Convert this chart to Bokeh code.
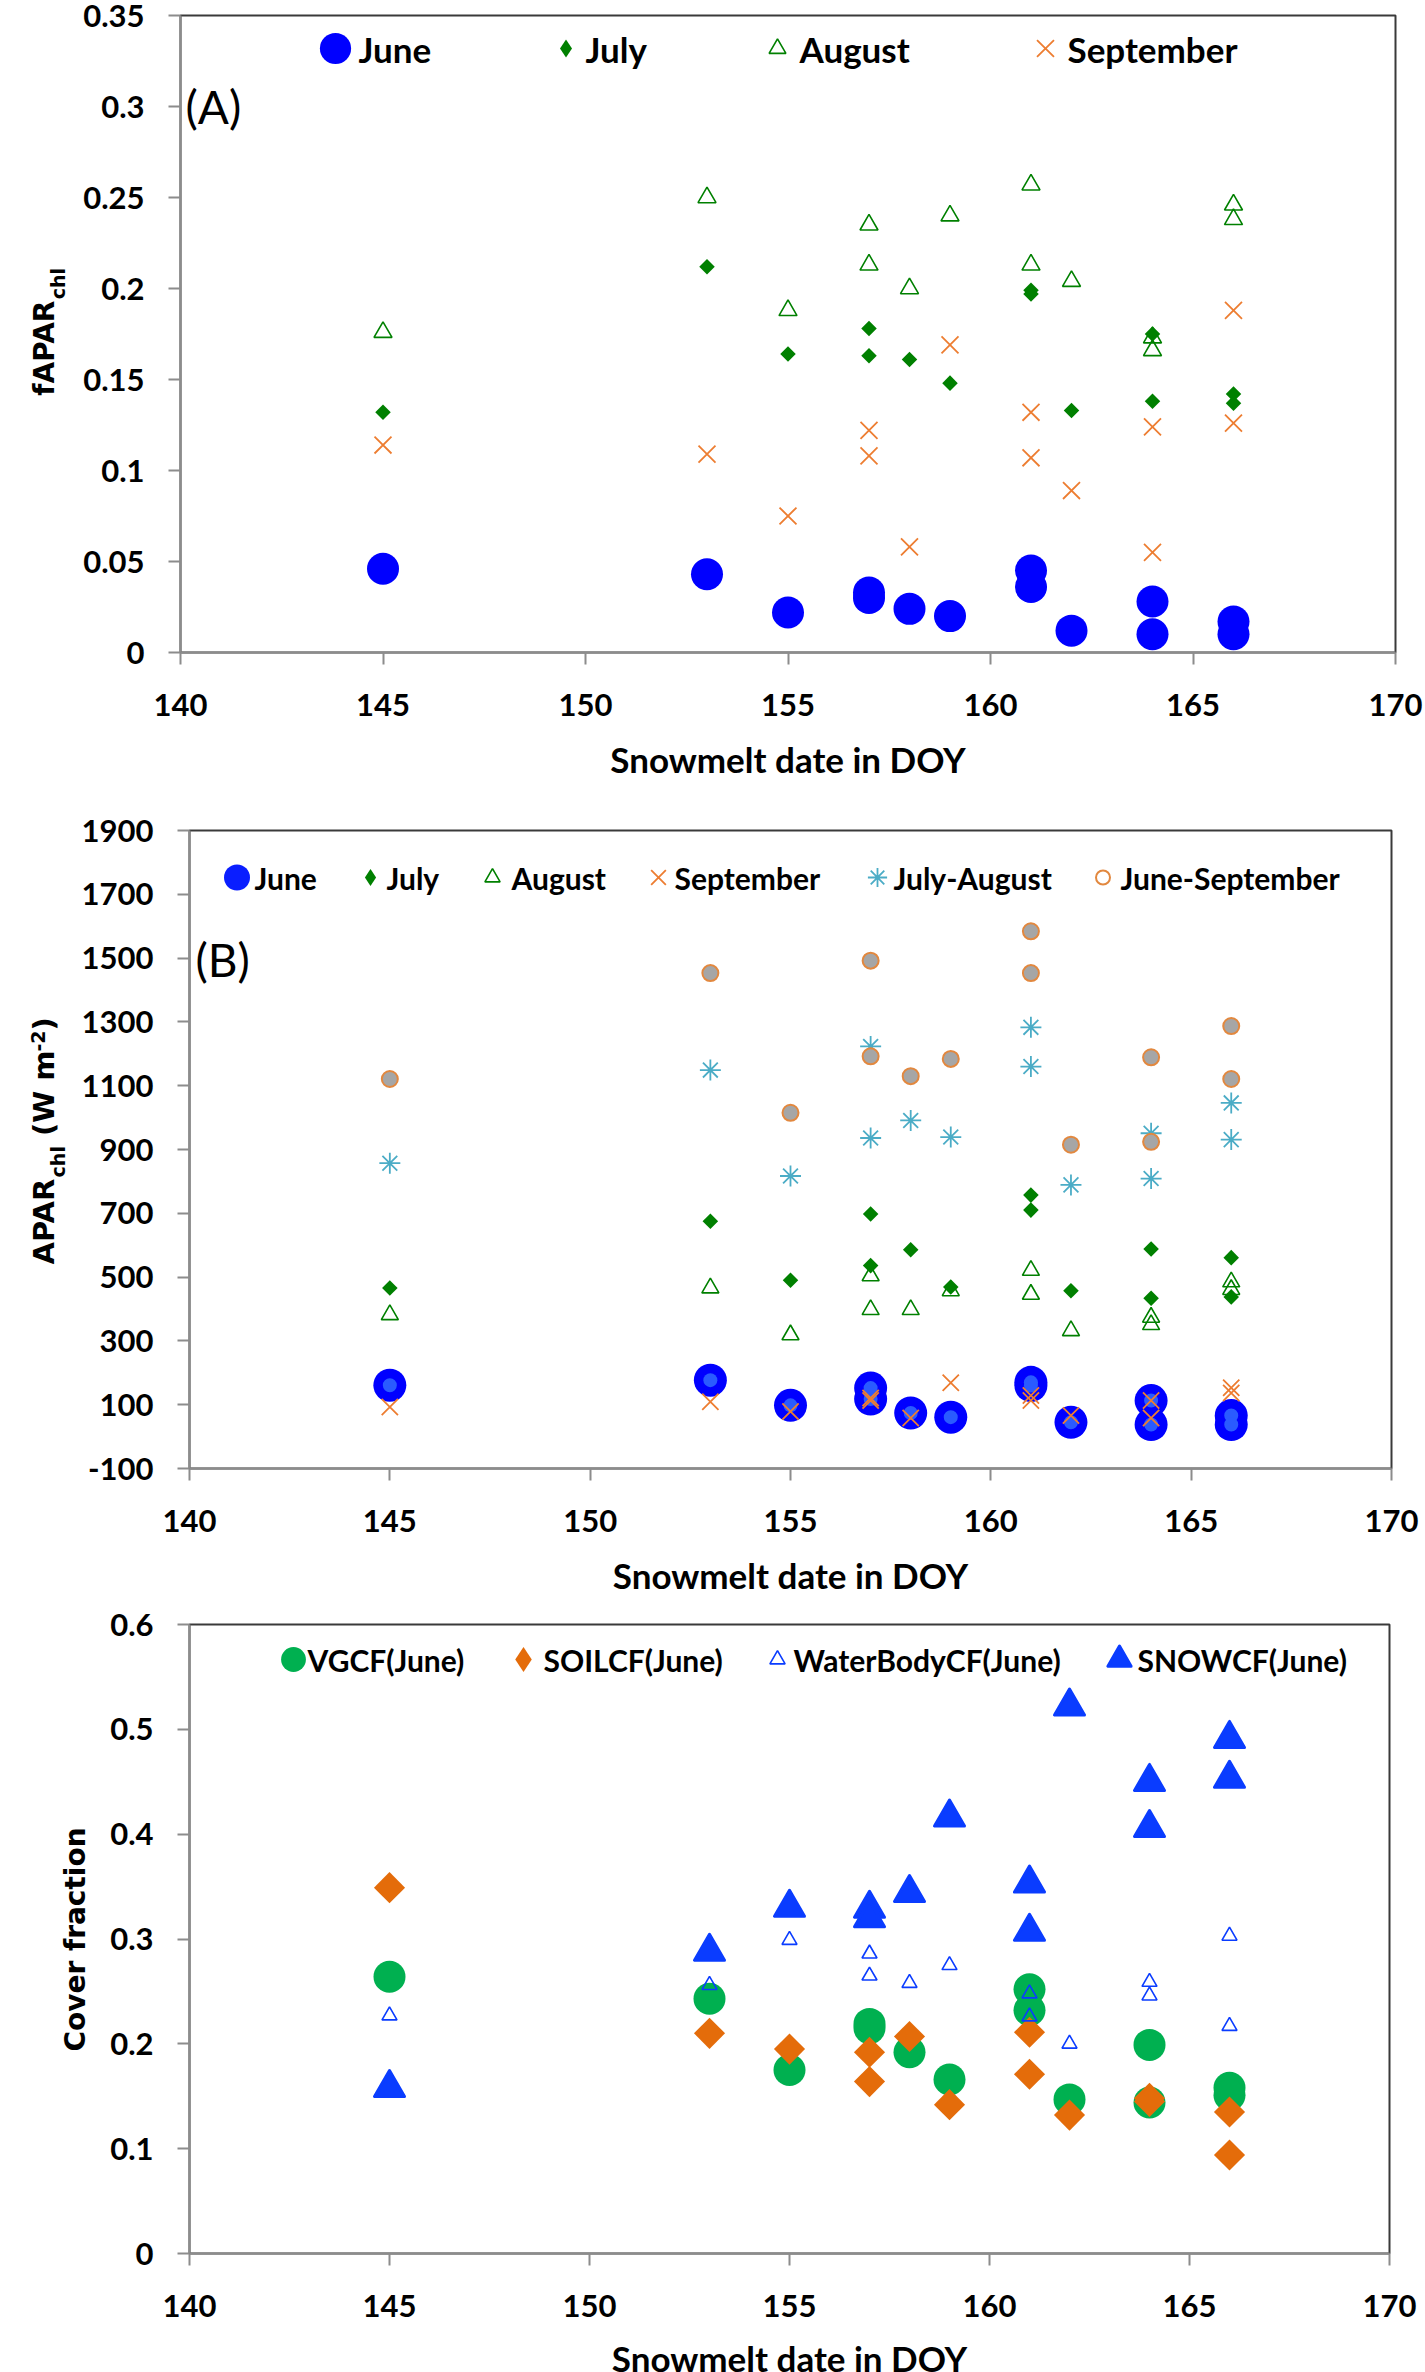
import math
from bokeh.plotting import figure
from bokeh.models import Range1d, FixedTicker, NumeralTickFormatter, Label, Legend, LegendItem
from bokeh.layouts import column, row
from bokeh.embed import file_html
from bokeh.resources import INLINE
from bokeh.core.properties import value

# ---------------- data ----------------
doy = [145, 153, 155, 157, 157, 158, 159, 161, 161, 162, 164, 164, 166, 166]

# (A) fAPARchl
fapar_june = [0.046, 0.043, 0.022, 0.033, 0.030, 0.024, 0.020, 0.045, 0.036, 0.012, 0.028, 0.010, 0.017, 0.010]
fapar_july = [0.132, 0.212, 0.164, 0.178, 0.163, 0.161, 0.148, 0.199, 0.197, 0.133, 0.175, 0.138, 0.142, 0.137]
fapar_august = [0.176, 0.250, 0.188, 0.235, 0.213, 0.200, 0.240, 0.257, 0.213, 0.204, 0.173, 0.166, 0.246, 0.238]
fapar_september = [0.114, 0.109, 0.075, 0.122, 0.108, 0.058, 0.169, 0.132, 0.107, 0.089, 0.124, 0.055, 0.188, 0.126]

# (B) APARchl (W m-2)
apar_june = [161, 177, 98, 152, 118, 74, 61, 170, 160, 45, 113, 38, 66, 38]
apar_july = [466, 675, 490, 698, 536, 586, 469, 757, 710, 457, 588, 434, 561, 438]
apar_august = [382, 466, 319, 504, 398, 398, 457, 521, 446, 332, 374, 351, 485, 461]
apar_september = [93, 109, 79, 121, 113, 58, 169, 129, 113, 66, 113, 58, 153, 137]
apar_july_august = [857, 1149, 817, 1223, 936, 991, 939, 1283, 1160, 789, 951, 809, 1046, 931]
apar_june_september = [1121, 1453, 1015, 1492, 1192, 1130, 1184, 1584, 1453, 915, 1189, 924, 1287, 1121]

# (C) cover fractions in June
vgcf_june = [0.264, 0.243, 0.175, 0.219, 0.215, 0.192, 0.166, 0.252, 0.232, 0.147, 0.199, 0.144, 0.158, 0.151]
soilcf_june = [0.349, 0.210, 0.195, 0.192, 0.164, 0.207, 0.142, 0.211, 0.171, 0.132, 0.148, 0.145, 0.135, 0.094]
waterbodycf_june = [0.227, 0.256, 0.299, 0.286, 0.265, 0.258, 0.275, 0.248, 0.226, 0.200, 0.259, 0.246, 0.303, 0.217]
snowcf_june = [0.158, 0.288, 0.330, 0.329, 0.320, 0.344, 0.416, 0.353, 0.307, 0.522, 0.450, 0.406, 0.491, 0.453]

x_ticks = [140, 145, 150, 155, 160, 165, 170]
fapar_ticks = [0, 0.05, 0.1, 0.15, 0.2, 0.25, 0.3, 0.35]
apar_ticks = [-100, 100, 300, 500, 700, 900, 1100, 1300, 1500, 1700, 1900]
cover_ticks = [0, 0.1, 0.2, 0.3, 0.4, 0.5, 0.6]
x_title = "Snowmelt date in DOY"

# ---------------- styling / layout helpers ----------------
PAGE_W = 1425
TICK_FONT = "Lato"
YLAB_FONT = "DejaVu Sans"
NAN = float("nan")
DIAMOND = math.pi / 4
# DejaVu Sans Bold advance widths (em), used to chain the rotated label pieces
EM = {" ": 0.348, "(": 0.458, ")": 0.458, "-": 0.416, "2": 0.696, "A": 0.774, "P": 0.733,
      "R": 0.770, "W": 1.102, "m": 1.042, "c": 0.592, "h": 0.712, "l": 0.343, "f": 0.435}
MID = 0.346  # em distance from baseline to the em-box middle (DejaVu)


def text_len(s, size):
    return sum(EM.get(ch, 0.6) for ch in s) * size


def strip(width, height, page_left, page_top, frame_bottom=None):
    s = figure(width=width, height=height, output_backend="svg", toolbar_location=None,
               title=None, x_axis_location=None, y_axis_location=None,
               x_range=Range1d(0, 1), y_range=Range1d(0, 1),
               min_border=0, min_border_left=0, min_border_right=0,
               min_border_top=0, min_border_bottom=0)
    s.outline_line_color = None
    s.background_fill_color = "white"
    s.border_fill_color = "white"
    s.grid.visible = False
    # inside a row, the strip's frame is aligned with the neighbouring plot's frame
    fb = frame_bottom if frame_bottom is not None else page_top + height
    return s, dict(fl=page_left, fb=fb)


def make_panel(strip_w, row_top, row_h, fl, fr, ft, fb, y_rng, y_ticks, y_fmt):
    p = figure(width=PAGE_W - strip_w, height=row_h, output_backend="svg", toolbar_location=None,
               title=None, x_range=Range1d(140, 170), y_range=Range1d(*y_rng),
               min_border_left=fl - strip_w, min_border_right=PAGE_W - fr,
               min_border_top=ft - row_top, min_border_bottom=row_top + row_h - fb)
    p.background_fill_color = "white"
    p.border_fill_color = "white"
    p.xgrid.visible = False
    p.ygrid.visible = False
    p.outline_line_color = "#3a3a3a"
    p.outline_line_width = 2
    for ax in (p.xaxis[0], p.yaxis[0]):
        ax.axis_line_color = "#8c8c8c"
        ax.axis_line_width = 2
        ax.major_tick_line_color = "#8c8c8c"
        ax.major_tick_line_width = 2
        ax.major_tick_out = 12
        ax.major_tick_in = 0
        ax.minor_tick_line_color = None
        ax.major_label_text_font = TICK_FONT
        ax.major_label_text_font_style = "bold"
        ax.major_label_text_font_size = "31px"
        ax.major_label_text_color = "black"
    p.xaxis.ticker = FixedTicker(ticks=x_ticks)
    p.yaxis.ticker = FixedTicker(ticks=y_ticks)
    p.xaxis.major_label_standoff = 29
    p.yaxis.major_label_standoff = 24
    p.yaxis.formatter = NumeralTickFormatter(format=y_fmt)
    return p, dict(fl=fl, fb=fb)


def add_label(p, g, text, X, Y, size, font=TICK_FONT, style="bold", angle=0,
              align="left", baseline="middle"):
    # X, Y are page pixel coordinates; converted to the frame's screen units
    p.add_layout(Label(x=X - g["fl"], y=g["fb"] - Y, x_units="screen", y_units="screen",
                       text=text, angle=angle, angle_units="deg", text_font=font,
                       text_font_style=style, text_font_size=f"{size}px",
                       text_align=align, text_baseline=baseline, text_color="black"))


def add_rotated_pieces(p, g, pieces, Y_center):
    # pieces: (text, size, baseline_x, gap_before) read bottom-to-top; each centred on its middle
    total = sum(text_len(t, s) + gap for t, s, _, gap in pieces)
    y = Y_center + total / 2.0
    for t, s, bx, gap in pieces:
        y -= gap
        L = text_len(t, s)
        add_label(p, g, t, bx - MID * s, y - L / 2.0, s, font=YLAB_FONT, angle=90,
                  align="center", baseline="middle")
        y -= L


def add_legend_entry(p, g, renderer, text, cx, cy, s, tx, fsize):
    # legend swatch drawn by Bokeh's Legend; its text as a Label placed beside it
    H = 80
    gw = int(round(2.5 * s))
    vx = cx - g["fl"] - gw / 2.0
    vy = (g["fb"] - cy) - H / 2.0
    leg = Legend(items=[LegendItem(label=value(" "), renderers=[renderer])],
                 location=(vx, vy), orientation="horizontal",
                 glyph_width=gw, glyph_height=H, label_height=H, label_standoff=0,
                 label_width=1, padding=0, margin=0, spacing=0, border_line_color=None,
                 background_fill_alpha=0, label_text_font_size="2px")
    p.add_layout(leg)
    add_label(p, g, text, tx, cy, fsize, align="left", baseline="middle")


# ================= panel A =================
SA = 72
ylA, gylA = strip(SA, 734, 0, 0, frame_bottom=652)
pA, gA = make_panel(SA, 0, 734, 180, 1395, 15, 652, (0, 0.35), fapar_ticks, "0.[00]")
tA, gtA = strip(PAGE_W, 66, 0, 734)

pA.scatter(doy, fapar_june, marker="circle", size=32, fill_color="#0000ff", line_color=None)
pA.scatter(doy, fapar_july, marker="square", angle=DIAMOND, size=11, fill_color="#008000", line_color=None)
pA.scatter(doy, fapar_august, marker="triangle", size=18, fill_color=None, line_color="#008000", line_width=1.6)
pA.scatter(doy, fapar_september, marker="x", size=24, line_color="#ed7d31", line_width=1.8)

lA = [pA.scatter([NAN], [NAN], marker="circle", size=31, fill_color="#0000ff", line_color=None),
      pA.scatter([NAN], [NAN], marker="diamond", size=18, fill_color="#008000", line_color=None),
      pA.scatter([NAN], [NAN], marker="triangle", size=17, fill_color=None, line_color="#008000", line_width=1.6),
      pA.scatter([NAN], [NAN], marker="x", size=24, line_color="#ed7d31", line_width=1.8)]
for r, t, cx, s, tx in zip(lA, ["June", "July", "August", "September"],
                           [335, 565, 777, 1045], [31, 18, 17, 24], [358, 585, 799, 1067]):
    add_legend_entry(pA, gA, r, t, cx, 48, s, tx, 35)

add_label(pA, gA, "(A)", 185, 106, 46, style="normal")
add_rotated_pieces(ylA, gylA, [("fAPAR", 28, 54, 0), ("chl", 19, 64, 0)], 332)
add_label(tA, gtA, x_title, (180 + 1395) / 2, 758, 35, align="center")

# ================= panel B =================
SB = 72
ylB, gylB = strip(SB, 750, 0, 800, frame_bottom=1468)
pB, gB = make_panel(SB, 800, 750, 189, 1391, 830, 1468, (-100, 1900), apar_ticks, "0")
tB, gtB = strip(PAGE_W, 50, 0, 1550)

pB.scatter(doy, apar_june, marker="circle", size=33, fill_color="#0000ff", line_color=None)
pB.scatter(doy, apar_june, marker="circle", size=14, fill_color="#2a5bff", line_color=None)
pB.scatter(doy, apar_july, marker="square", angle=DIAMOND, size=11, fill_color="#008000", line_color=None)
pB.scatter(doy, apar_august, marker="triangle", size=17, fill_color=None, line_color="#008000", line_width=1.6)
pB.scatter(doy, apar_september, marker="x", size=23, line_color="#ed7d31", line_width=1.8)
pB.scatter(doy, apar_july_august, marker="asterisk", size=21, line_color="#4bacc6", line_width=1.8)
pB.scatter(doy, apar_june_september, marker="circle", size=16, fill_color="#a6a6a6",
           line_color="#e2883f", line_width=2)

lB = [pB.scatter([NAN], [NAN], marker="circle", size=26, fill_color="#0a1eff", line_color=None),
      pB.scatter([NAN], [NAN], marker="diamond", size=17, fill_color="#008000", line_color=None),
      pB.scatter([NAN], [NAN], marker="triangle", size=15, fill_color=None, line_color="#008000", line_width=1.6),
      pB.scatter([NAN], [NAN], marker="x", size=21, line_color="#ed7d31", line_width=1.8),
      pB.scatter([NAN], [NAN], marker="asterisk", size=19, line_color="#4bacc6", line_width=1.8),
      pB.scatter([NAN], [NAN], marker="circle", size=14, fill_color="white", line_color="#e2883f", line_width=2)]
for r, t, cx, s, tx in zip(lB, ["June", "July", "August", "September", "July-August", "June-September"],
                           [236, 370, 492, 658, 877, 1102], [26, 17, 15, 21, 19, 14],
                           [254, 386, 511, 674, 893, 1120]):
    add_legend_entry(pB, gB, r, t, cx, 877, s, tx, 30)

add_label(pB, gB, "(B)", 195, 959, 46, style="normal")
add_rotated_pieces(ylB, gylB, [("APAR", 29, 54, 0), ("chl", 19, 64, 0), ("(W m", 29, 54, 10),
                               ("-2", 19, 44, -1), (")", 29, 54, 0)], 1141)
add_label(tB, gtB, x_title, (189 + 1391) / 2, 1574, 35, align="center")

# ================= panel C =================
SC = 100
ylC, gylC = strip(SC, 735, 0, 1600, frame_bottom=2253)
pC, gC = make_panel(SC, 1600, 735, 189, 1389, 1624, 2253, (0, 0.6), cover_ticks, "0.[0]")
tC, gtC = strip(PAGE_W, 37, 0, 2335)

pC.scatter(doy, vgcf_june, marker="circle", size=32, fill_color="#00b050", line_color=None)
pC.scatter(doy, soilcf_june, marker="square", angle=DIAMOND, size=22, fill_color="#e46c0a", line_color=None)
pC.scatter(doy, waterbodycf_june, marker="triangle", size=15, fill_color=None, line_color="#0a3cff", line_width=1.6)
pC.scatter(doy, snowcf_june, marker="triangle", size=30, fill_color="#0a3cff", line_color="#0a3cff",
           line_width=3, line_join="round")

lC = [pC.scatter([NAN], [NAN], marker="circle", size=25, fill_color="#00b050", line_color=None),
      pC.scatter([NAN], [NAN], marker="diamond", size=25, fill_color="#e46c0a", line_color=None),
      pC.scatter([NAN], [NAN], marker="triangle", size=15, fill_color=None, line_color="#0a3cff", line_width=1.6),
      pC.scatter([NAN], [NAN], marker="triangle", size=23, fill_color="#0a3cff", line_color="#0a3cff",
                 line_width=3, line_join="round")]
for r, t, cx, s, tx in zip(lC, ["VGCF(June)", "SOILCF(June)", "WaterBodyCF(June)", "SNOWCF(June)"],
                           [293, 523, 777, 1119], [25, 25, 15, 23], [307, 543, 793, 1137]):
    add_legend_entry(pC, gC, r, t, cx, 1659, s, tx, 30)

add_rotated_pieces(ylC, gylC, [("Cover fraction", 28, 85, 0)], 1939)
add_label(tC, gtC, x_title, (189 + 1389) / 2, 2357, 35, align="center")

layout = column(row(ylA, pA, spacing=0), tA,
                row(ylB, pB, spacing=0), tB,
                row(ylC, pC, spacing=0), tC, spacing=0)
open("out.html", "w").write(file_html(layout, INLINE))
